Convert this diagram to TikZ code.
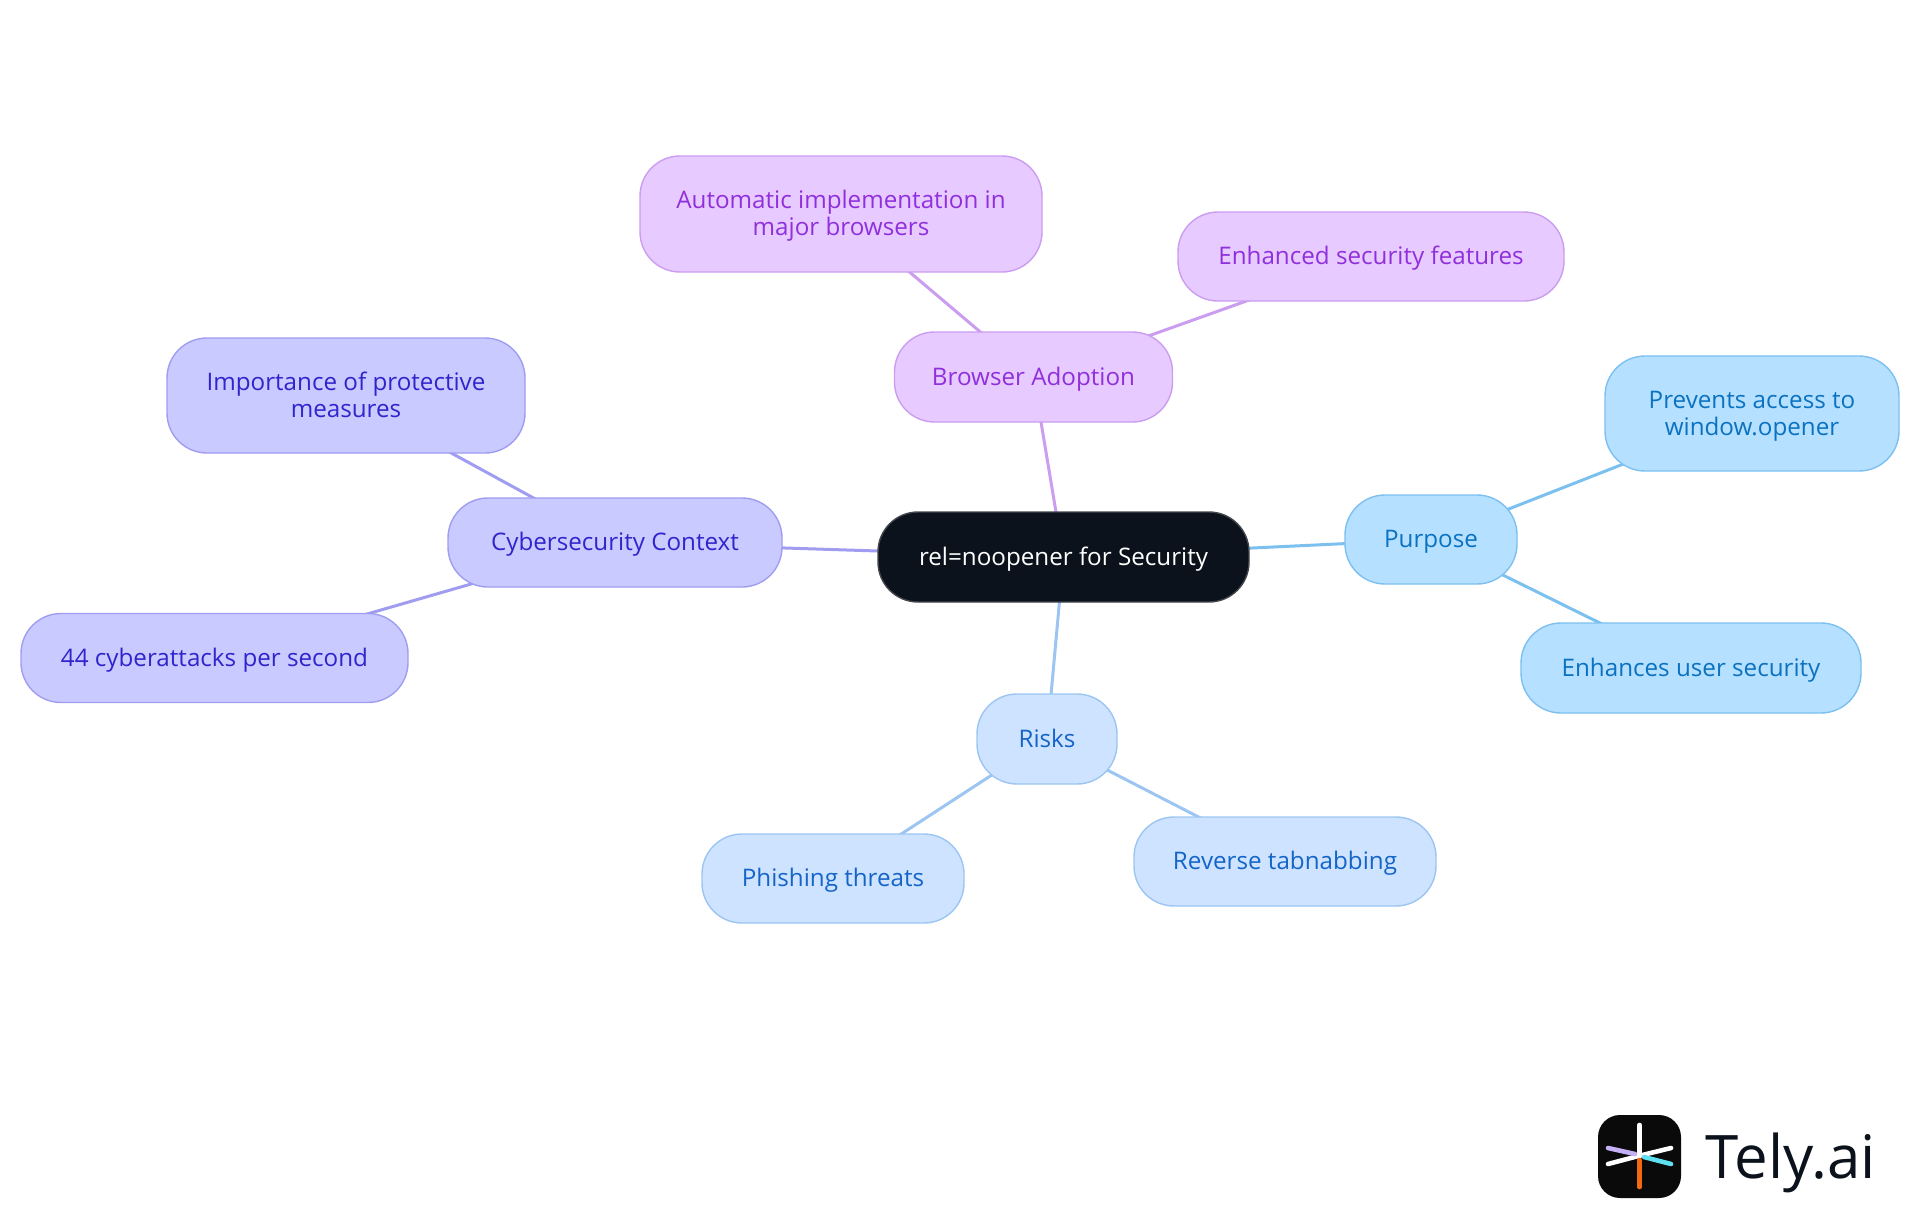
\documentclass[tikz,border=0pt]{standalone}
\usepackage{fontspec}
\setmainfont{Open Sans}
\usepackage{tikz}
\usetikzlibrary{backgrounds}
\definecolor{rootfill}{HTML}{0B121B}
\definecolor{rootline}{HTML}{43474D}
\definecolor{purplefill}{HTML}{E7CAFF}
\definecolor{purpleline}{HTML}{CB9DF0}
\definecolor{purpletext}{HTML}{9030DC}
\definecolor{indigofill}{HTML}{C9CAFF}
\definecolor{indigoline}{HTML}{A09DF0}
\definecolor{indigotext}{HTML}{3025CC}
\definecolor{bluefill}{HTML}{B5E0FF}
\definecolor{blueline}{HTML}{7CC0F0}
\definecolor{bluetext}{HTML}{0B72C0}
\definecolor{skyfill}{HTML}{CDE3FF}
\definecolor{skyline}{HTML}{9CC5F2}
\definecolor{skytext}{HTML}{1565C8}
\definecolor{logoblack}{HTML}{0A0A0A}
\definecolor{logolilac}{HTML}{C4B0F5}
\definecolor{logocyan}{HTML}{5FE0F0}
\definecolor{logoorange}{HTML}{F26A0F}
\newcommand{\linetop}{\rule{0pt}{.94em}}
\tikzset{
  mapnode/.style={rectangle,rounded corners=20pt,line width=0.7pt,inner sep=0pt,align=center,
    font=\fontsize{12.1pt}{13.5pt}\selectfont,
    execute at begin node=\rule[-.25em]{0pt}{1.17em},execute at end node=\rule[-.25em]{0pt}{1.17em}},
  rootnode/.style={mapnode,fill=rootfill,draw=rootline,text=white},
  purplenode/.style={mapnode,fill=purplefill,draw=purpleline,text=purpletext},
  indigonode/.style={mapnode,fill=indigofill,draw=indigoline,text=indigotext},
  bluenode/.style={mapnode,fill=bluefill,draw=blueline,text=bluetext},
  skynode/.style={mapnode,fill=skyfill,draw=skyline,text=skytext},
  link/.style={line width=1.5pt},
  bar/.style={line width=2.3pt,line cap=round}
}
\begin{document}
\begin{tikzpicture}[x=0.5pt,y=-0.5pt]
\useasboundingbox (0,0) rectangle (1920,1215);
\node[rootnode,minimum width=185.5pt,minimum height=45pt] (root) at (1063.5,557) {rel=noopener for Security};
\node[purplenode,minimum width=139pt,minimum height=45pt] (browser) at (1033.5,377) {Browser Adoption};
\node[purplenode,minimum width=201pt,minimum height=58pt] (automatic) at (841,214) {\linetop Automatic implementation in\\major browsers};
\node[purplenode,minimum width=193pt,minimum height=44.5pt] (enhanced) at (1371,256.5) {Enhanced security features};
\node[bluenode,minimum width=86pt,minimum height=44.5pt] (purpose) at (1431,539.5) {Purpose};
\node[bluenode,minimum width=147pt,minimum height=57.5pt] (prevents) at (1752,413.5) {\linetop Prevents access to\\window.opener};
\node[bluenode,minimum width=170pt,minimum height=45pt] (userSec) at (1691,668) {Enhances user security};
\node[skynode,minimum width=70pt,minimum height=45pt] (risks) at (1047,739) {Risks};
\node[skynode,minimum width=131pt,minimum height=44.5pt] (phishing) at (833,878.5) {Phishing threats};
\node[skynode,minimum width=151pt,minimum height=44.5pt] (reverse) at (1285,861.5) {Reverse tabnabbing};
\node[indigonode,minimum width=167pt,minimum height=44.5pt] (context) at (615,542.5) {Cybersecurity Context};
\node[indigonode,minimum width=179pt,minimum height=57.5pt] (importance) at (346,395.5) {\linetop Importance of protective\\measures};
\node[indigonode,minimum width=193.5pt,minimum height=44.5pt] (attacks) at (214.5,658) {44 cyberattacks per second};
\begin{pgfonlayer}{background}
\draw[link,purpleline] (root.center) -- (browser.center);
\draw[link,purpleline] (browser.center) -- (automatic.center);
\draw[link,purpleline] (browser.center) -- (enhanced.center);
\draw[link,blueline] (root.center) -- (purpose.center);
\draw[link,blueline] (purpose.center) -- (prevents.center);
\draw[link,blueline] (purpose.center) -- (userSec.center);
\draw[link,skyline] (root.center) -- (risks.center);
\draw[link,skyline] (risks.center) -- (phishing.center);
\draw[link,skyline] (risks.center) -- (reverse.center);
\draw[link,indigoline] (root.center) -- (context.center);
\draw[link,indigoline] (context.center) -- (importance.center);
\draw[link,indigoline] (context.center) -- (attacks.center);
\end{pgfonlayer}
% logo
\fill[logoblack,rounded corners=11pt] (1598,1115) rectangle (1681,1198);
\coordinate (hub) at (1639.5,1155.7);
\draw[bar,white] (hub) -- (1639.5,1125);
\draw[bar,white] (hub) -- (1671,1148);
\draw[bar,white] (hub) -- (1608,1164);
\draw[bar,logoorange] (1639.5,1160) -- (1639.5,1187);
\draw[bar,logolilac] (1635,1154) -- (1608,1148);
\draw[bar,logocyan] (1644,1157) -- (1671,1164);
\node[anchor=base west,inner sep=0pt,text=rootfill,font=\fontsize{30pt}{30pt}\selectfont] (tely) at (1705,1178) {Tely.ai};
\end{tikzpicture}
\end{document}
